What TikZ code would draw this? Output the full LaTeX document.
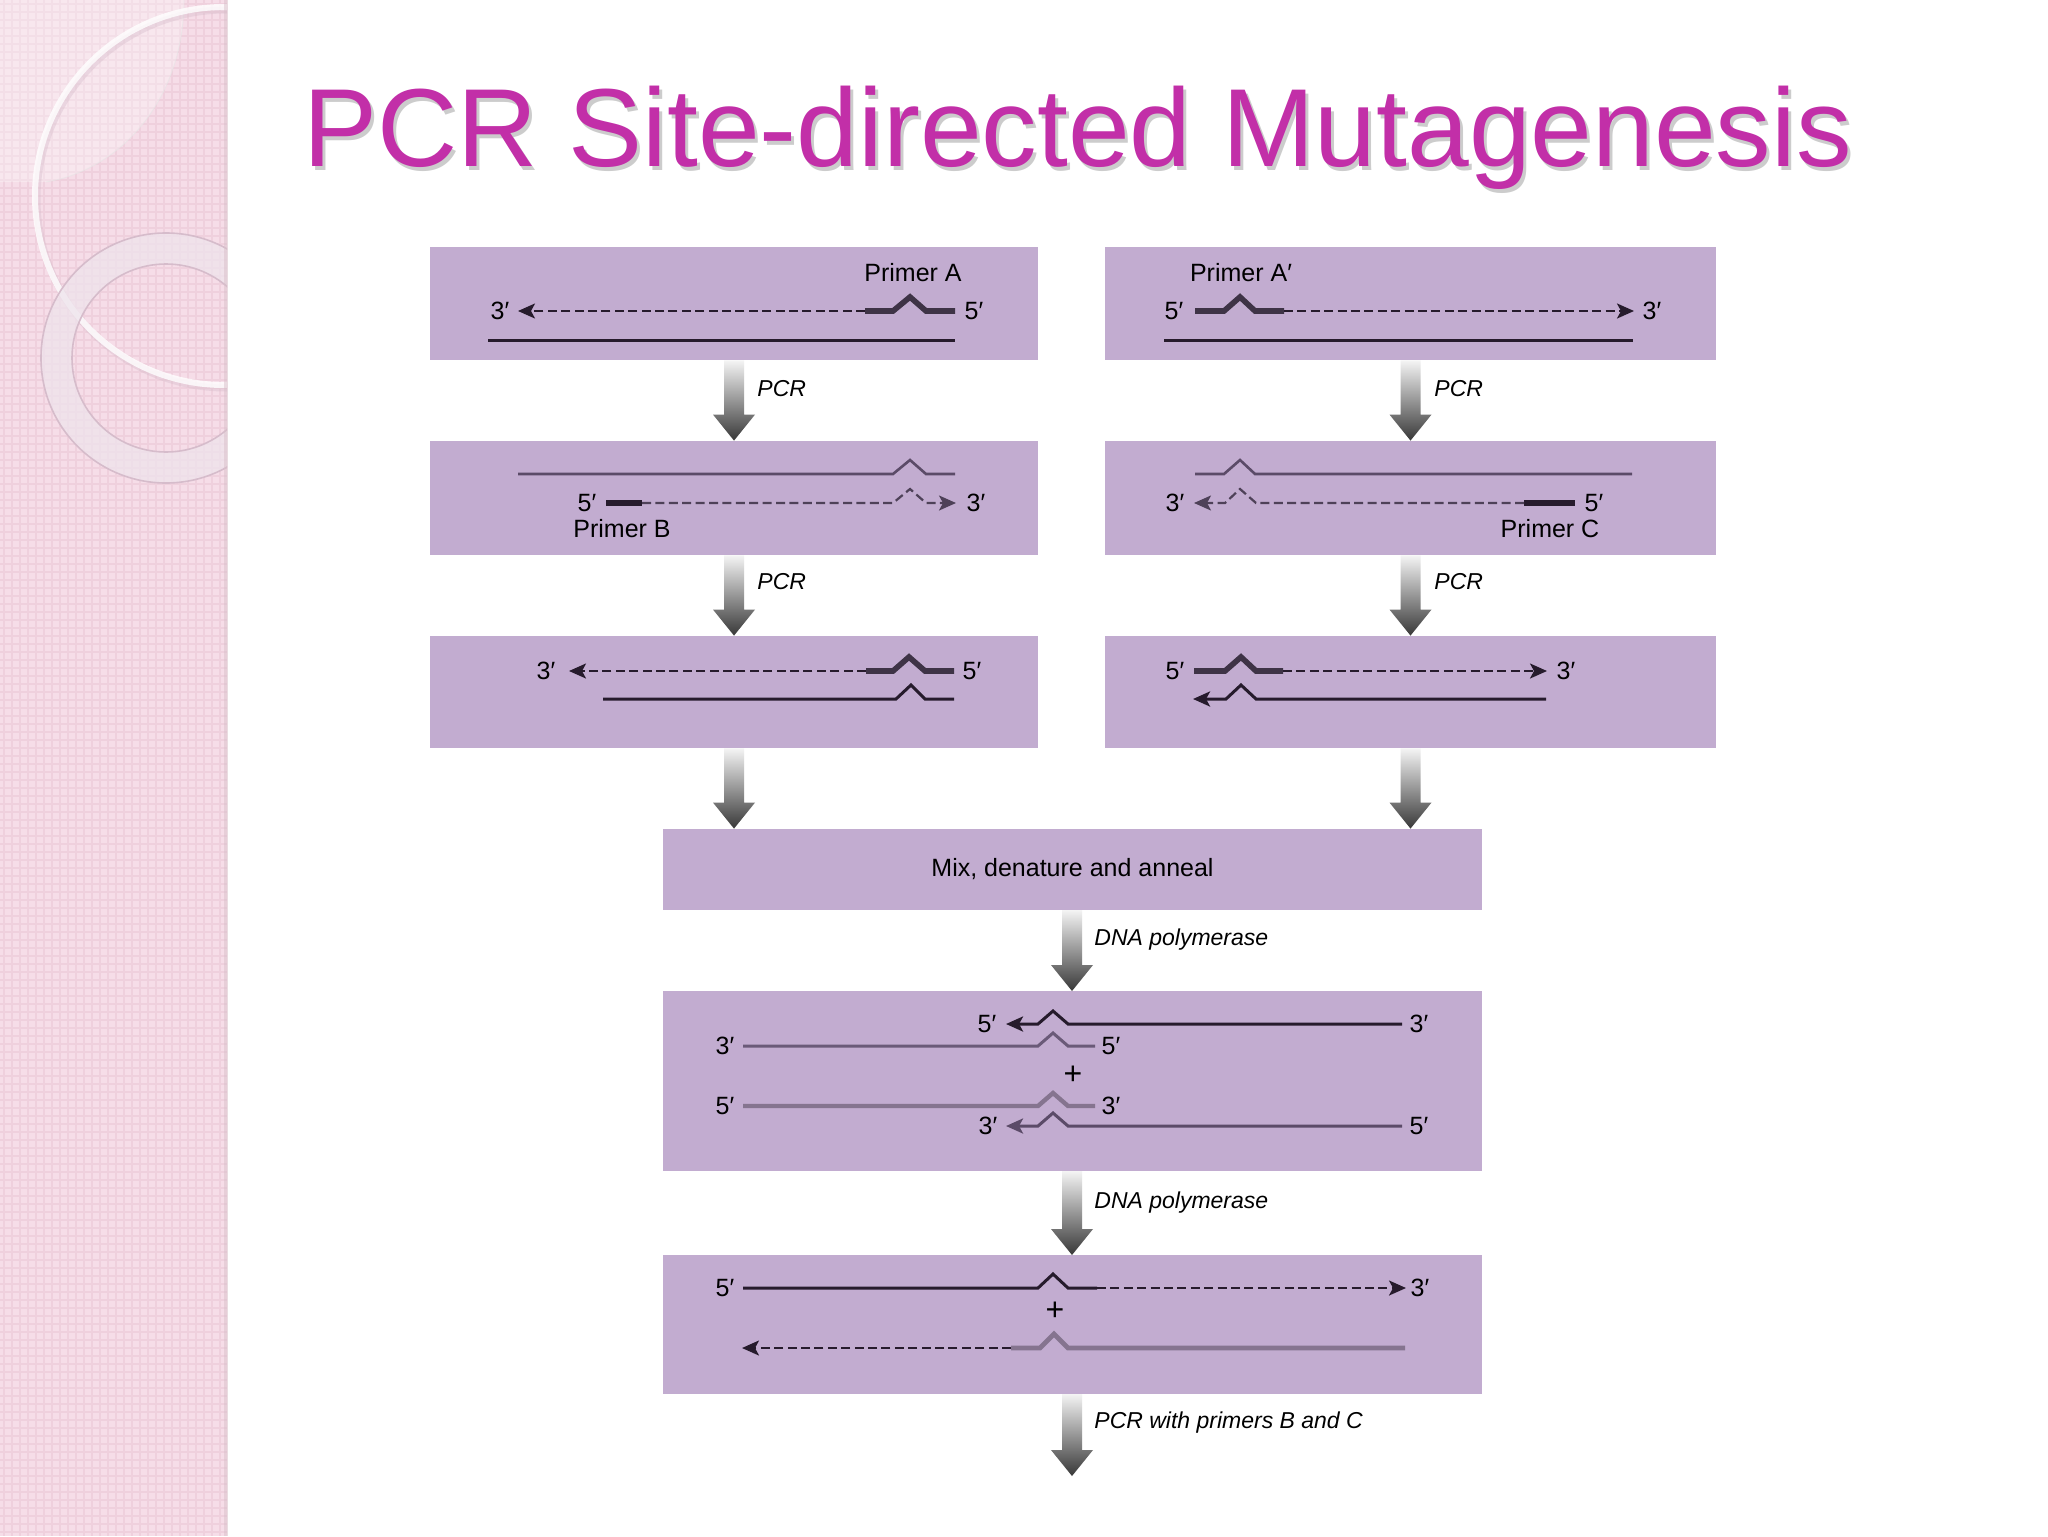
\documentclass[tikz,border=0pt]{standalone}
\usepackage{fontspec}
\setmainfont{Liberation Sans}
\usetikzlibrary{arrows.meta,fit,calc}
\definecolor{boxcol}{HTML}{C2ACD0}
\definecolor{titlecol}{HTML}{C22FA8}
\definecolor{dark}{HTML}{261B2C}
\definecolor{primcol}{HTML}{3E3346}
\definecolor{thinc}{HTML}{5B4B68}
\definecolor{dashc}{HTML}{4E4158}
\definecolor{midc}{HTML}{6A5A78}
\definecolor{lightc}{HTML}{85748F}
\definecolor{arrtop}{HTML}{F4F4F4}
\definecolor{arrbot}{HTML}{383838}
\definecolor{panelbg}{HTML}{F6DDE8}
\definecolor{gridc}{HTML}{EFD0DD}
\definecolor{ringc}{HTML}{EEE4EC}
\definecolor{ringedge}{HTML}{D6BCCB}
\newcommand{\fatarr}[2]{%
  \shade[top color=arrtop, bottom color=arrbot]
    ($(#1)+(-10,0)$) -- ($(#1)+(10,0)$) -- ($(#2)+(10,-26)$) -- ($(#2)+(21,-26)$)
    -- (#2) -- ($(#2)+(-21,-26)$) -- ($(#2)+(-10,-26)$) -- cycle;}
\tikzset{
  box/.style={fill=boxcol, draw=none, inner sep=0pt},
  strand/.style={draw=dark, line width=1.5pt, line join=miter},
  thinstrand/.style={draw=thinc, line width=1.3pt, line join=miter},
  prim/.style={draw=primcol, line width=2.8pt, line join=miter},
  bar/.style={draw=dark, line width=3.2pt},
  dstrand/.style={draw=dark, line width=1.1pt, dash pattern=on 4.5pt off 2.2pt},
  dstrandl/.style={draw=dashc, line width=1.1pt, dash pattern=on 4.5pt off 2.2pt},
  tip/.style={-{Stealth[length=8.5pt,width=7.5pt,inset=2pt]}},
  lab/.style={font=\fontsize{12.5}{14}\selectfont, text=black, inner sep=0pt},
  steplab/.style={font=\fontsize{11.5}{13}\selectfont\itshape, text=black, inner sep=0pt, anchor=west},
}
\begin{document}
\begin{tikzpicture}[x=0.5pt,y=-0.5pt]
\useasboundingbox (0,0) rectangle (2048,1536);
\fill[white] (0,0) rectangle (2048,1536);
% ---------- left decorative panel ----------
\begin{scope}
  \clip (0,0) rectangle (227,1536);
  \fill[panelbg] (0,0) rectangle (227,1536);
  \foreach \x in {4,12,...,228} \draw[gridc, line width=0.9pt] (\x,0) -- (\x,1536);
  \foreach \y in {4,12,...,1536} \draw[gridc, line width=0.9pt] (0,\y) -- (227,\y);
  \fill[white, opacity=0.3] (0,0) -- (184,0) .. controls (184,100) and (120,170) .. (46,182) -- (0,182) -- cycle;
  \draw[white!80!gray, line width=0.4pt, opacity=0.6] (184,0) .. controls (184,100) and (120,170) .. (46,182);
  % big thin ring
  \draw[ringedge, line width=3.5pt, opacity=0.4] (226,199) circle (189);
  \draw[white, line width=3pt, opacity=0.8] (224,196) circle (189);
  % wide ring
  \fill[ringc, opacity=0.75, even odd rule] (166,358) circle (125) (166,358) circle (94);
  \draw[ringedge, line width=0.8pt] (166,358) circle (125);
  \draw[ringedge, line width=0.8pt] (166,358) circle (94);
\end{scope}
\fill[gridc!80!gray, opacity=0.5] (224,0) rectangle (228,1536);
% ---------- title ----------
\node[anchor=base west, inner sep=0pt, text=gray, opacity=0.4, font=\fontsize{55.5}{60}\selectfont] at (306,170) {PCR Site-directed Mutagenesis};
\node[anchor=base west, inner sep=0pt, text=titlecol, font=\fontsize{55.5}{60}\selectfont] (title) at (303,166) {PCR Site-directed Mutagenesis};
% ---------- boxes ----------
\node[box, fit={(430,247) (1038,360)}] (L1) {};
\node[box, fit={(1105,247) (1716,360)}] (R1) {};
\node[box, fit={(430,441) (1038,555)}] (L2) {};
\node[box, fit={(1105,441) (1716,555)}] (R2) {};
\node[box, fit={(430,636) (1038,748)}] (L3) {};
\node[box, fit={(1105,636) (1716,748)}] (R3) {};
\node[box, fit={(663,829) (1482,910)}] (mix) {};
\node[box, fit={(663,991) (1482,1171)}] (B5) {};
\node[box, fit={(663,1255) (1482,1394)}] (B6) {};
\coordinate (endpt) at (1072,1476);
% ---------- arrows ----------
\fatarr{L1.south}{L2.north}
\fatarr{R1.south}{R2.north}
\fatarr{L2.south}{L3.north}
\fatarr{R2.south}{R3.north}
\coordinate (mL) at (L3.south |- mix.north);
\coordinate (mR) at (R3.south |- mix.north);
\fatarr{L3.south}{mL}
\fatarr{R3.south}{mR}
\coordinate (mS) at (1072,910);
\coordinate (b5N) at (1072,991);
\coordinate (b5S) at (1072,1171);
\coordinate (b6N) at (1072,1255);
\coordinate (b6S) at (1072,1394);
\fatarr{mS}{b5N}
\fatarr{b5S}{b6N}
\fatarr{b6S}{endpt}
\node[steplab] at (757,389) {PCR};
\node[steplab] at (1434,389) {PCR};
\node[steplab] at (757,582) {PCR};
\node[steplab] at (1434,582) {PCR};
\node[steplab] at (1094,940) {DNA polymerase};
\node[steplab] at (1094,1203) {DNA polymerase};
\node[steplab] at (1094,1423) {PCR with primers B and C};
% ---------- box L1 ----------
\node[lab] at (913,273) {Primer A};
\draw[dstrand, tip] (865,311) -- (518,311);
\draw[prim] (865,311) -- (893,311) -- (910,297) -- (926,311) -- (955,311);
\node[lab] at (500,311) {3′};
\node[lab] at (974,311) {5′};
\draw[strand] (488,340) -- (955,340);
% ---------- box R1 ----------
\node[lab] at (1241,273) {Primer A′};
\draw[prim] (1195,311) -- (1224,311) -- (1240,297) -- (1255,311) -- (1284,311);
\draw[dstrand, tip] (1284,311) -- (1634,311);
\node[lab] at (1174,311) {5′};
\node[lab] at (1652,311) {3′};
\draw[strand] (1164,340) -- (1633,340);
% ---------- box L2 ----------
\draw[thinstrand] (518,474) -- (893,474) -- (910,460) -- (926,474) -- (955,474);
\node[lab] at (587,503) {5′};
\draw[bar] (606,503) -- (642,503);
\draw[dstrandl, tip] (642,503) -- (893,503) -- (910,489) -- (926,503) -- (956,503);
\node[lab] at (976,503) {3′};
\node[lab] at (622,529) {Primer B};
% ---------- box R2 ----------
\draw[thinstrand] (1195,474) -- (1224,474) -- (1240,460) -- (1255,474) -- (1632,474);
\draw[bar] (1524,503) -- (1575,503);
\draw[dstrandl, tip] (1524,503) -- (1256,503) -- (1240,489) -- (1225,503) -- (1194,503);
\node[lab] at (1175,503) {3′};
\node[lab] at (1594,503) {5′};
\node[lab] at (1550,529) {Primer C};
% ---------- box L3 ----------
\draw[dstrand, tip] (866,671) -- (569,671);
\draw[prim] (866,671) -- (893,671) -- (909,657) -- (925,671) -- (954,671);
\node[lab] at (546,671) {3′};
\node[lab] at (972,671) {5′};
\draw[strand] (603,699) -- (896,699) -- (911,685) -- (925,699) -- (954,699);
% ---------- box R3 ----------
\node[lab] at (1175,671) {5′};
\draw[prim] (1194,671) -- (1225,671) -- (1241,657) -- (1256,671) -- (1283,671);
\draw[dstrand, tip] (1283,671) -- (1547,671);
\node[lab] at (1566,671) {3′};
\draw[strand, tip] (1546,699) -- (1256,699) -- (1241,685) -- (1226,699) -- (1193,699);
% ---------- mix box ----------
\node[lab] at (mix.center) {Mix, denature and anneal};
% ---------- box 5 ----------
\draw[strand, tip] (1402,1024) -- (1068,1024) -- (1053,1011) -- (1038,1024) -- (1006,1024);
\node[lab] at (987,1024) {5′};
\node[lab] at (1419,1024) {3′};
\draw[draw=midc, line width=1.5pt, line join=miter] (743,1046) -- (1038,1046) -- (1053,1033) -- (1068,1046) -- (1095,1046);
\node[lab] at (725,1046) {3′};
\node[lab] at (1111,1046) {5′};
\node[lab, font=\fontsize{16}{18}\selectfont] at (1073,1075) {+};
\draw[draw=lightc, line width=2.2pt, line join=miter] (743,1106) -- (1038,1106) -- (1053,1093) -- (1068,1106) -- (1095,1106);
\node[lab] at (725,1106) {5′};
\node[lab] at (1111,1106) {3′};
\draw[draw=thinc, line width=1.5pt, line join=miter, tip] (1402,1126) -- (1068,1126) -- (1053,1113) -- (1038,1126) -- (1006,1126);
\node[lab] at (988,1126) {3′};
\node[lab] at (1419,1126) {5′};
% ---------- box 6 ----------
\draw[strand] (743,1288) -- (1038,1288) -- (1053,1274) -- (1068,1288) -- (1097,1288);
\draw[dstrand, tip] (1097,1288) -- (1406,1288);
\node[lab] at (725,1288) {5′};
\node[lab] at (1420,1288) {3′};
\node[lab, font=\fontsize{16}{18}\selectfont] at (1055,1311) {+};
\draw[dstrand, tip] (1011,1348) -- (742,1348);
\draw[draw=lightc, line width=2.4pt, line join=miter] (1011,1348) -- (1040,1348) -- (1054,1334) -- (1068,1348) -- (1405,1348);
\end{tikzpicture}
\end{document}
